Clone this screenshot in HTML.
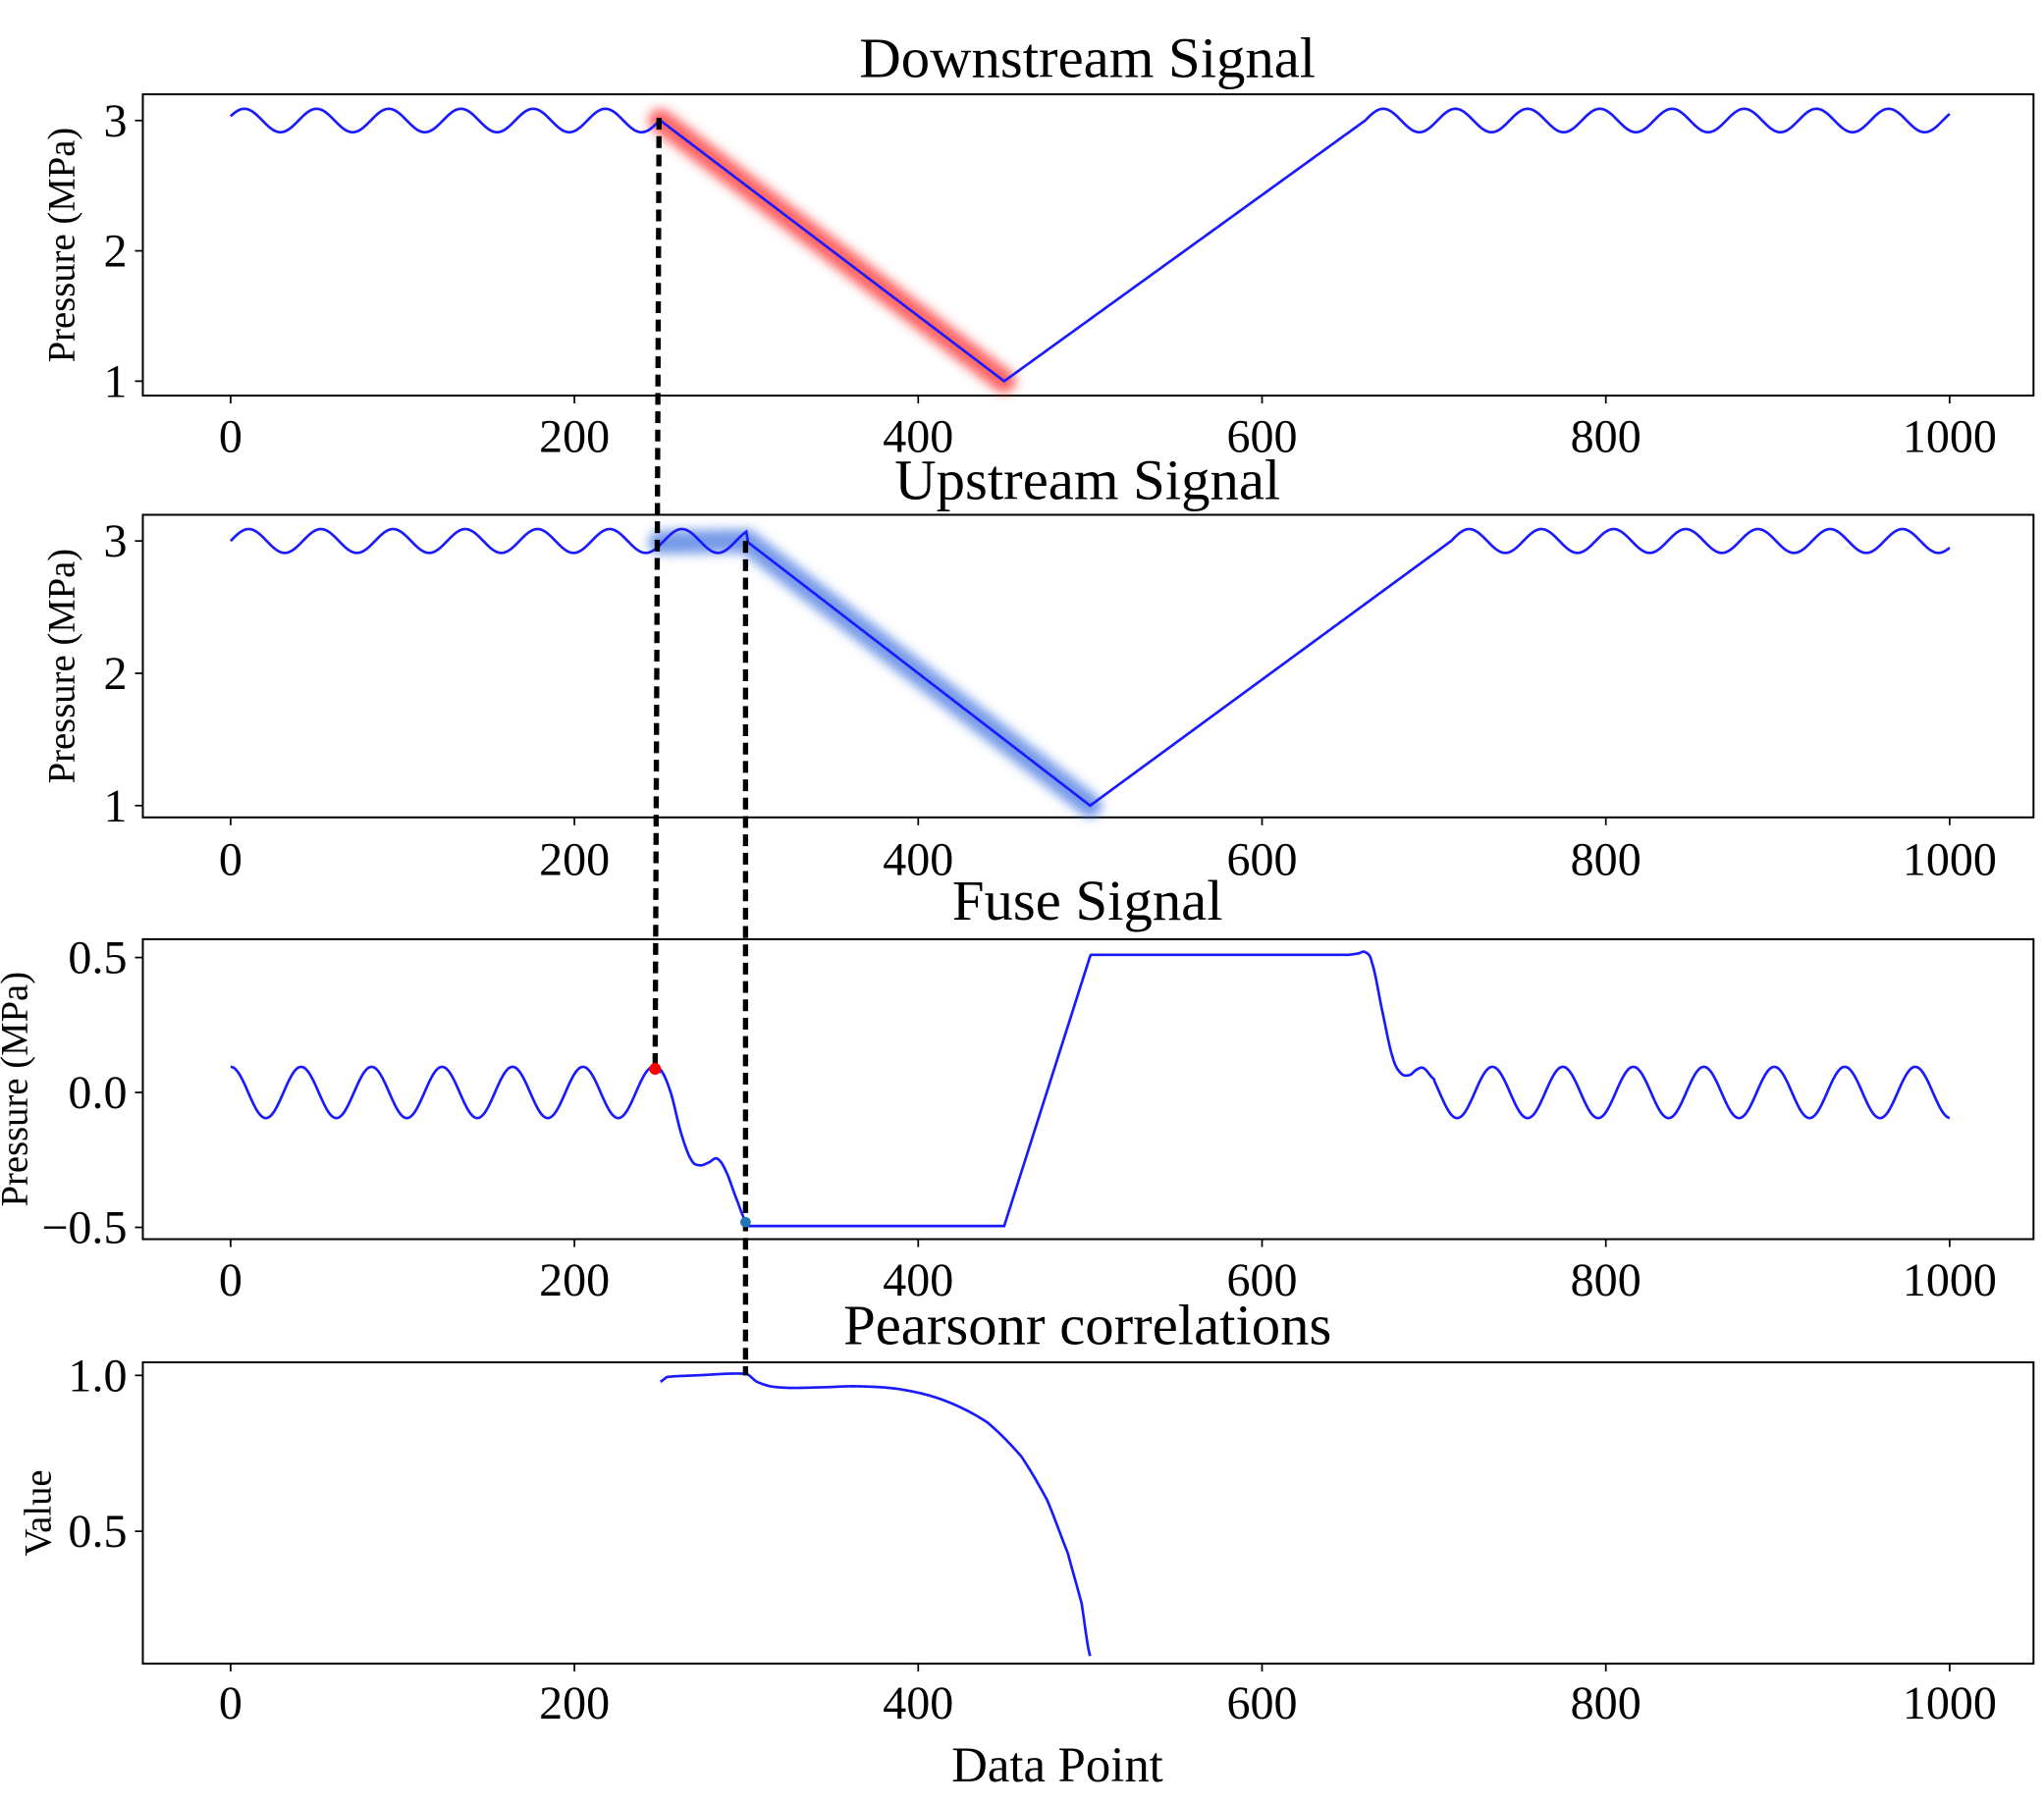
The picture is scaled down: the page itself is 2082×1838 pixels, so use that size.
<!DOCTYPE html>
<html><head><meta charset="utf-8"><style>
html,body{margin:0;padding:0;background:#fff;}
svg{display:block;}
text{font-family:"Liberation Serif",serif;fill:#000;}
</style></head><body>
<svg id="s" width="2082" height="1838" viewBox="0 0 1560 1377.2" xmlns="http://www.w3.org/2000/svg">
<defs>
<filter id="blr" x="-20%" y="-20%" width="140%" height="140%"><feGaussianBlur stdDeviation="4"/></filter>
</defs>
<g id="g"></g>
</svg>
<script>
var g=document.getElementById('g');var NS='http://www.w3.org/2000/svg';
function el(t,a,txt){var e=document.createElementNS(NS,t);for(var k in a)e.setAttribute(k,a[k]);if(txt!==undefined)e.textContent=txt;g.appendChild(e);return e;}
function X(x){return 176+1.312*x;}
var panels=[
 {top:72,bot:302,title:'Downstream Signal',ty:45,yl:'Pressure (MPa)',ylx:50,ticks:[[3,'3'],[2,'2'],[1,'1']],ymap:function(v){return 92+(3-v)*99.5;},xl:333},
 {top:393,bot:624,title:'Upstream Signal',ty:367,yl:'Pressure (MPa)',ylx:50,ticks:[[3,'3'],[2,'2'],[1,'1']],ymap:function(v){return 413+(3-v)*101;},xl:656},
 {top:717,bot:946,title:'Fuse Signal',ty:688,yl:'Pressure (MPa)',ylx:14,ticks:[[0.5,'0.5'],[0,'0.0'],[-0.5,'\u22120.5']],ymap:function(v){return 834-v*206;},xl:977},
 {top:1040,bot:1270,title:'Pearsonr correlations',ty:1012,yl:'Value',ylx:32,ticks:[[1,'1.0'],[0.5,'0.5']],ymap:function(v){return 1050+(1-v)*238;},xl:1300}
];
panels.forEach(function(p){
 el('rect',{x:109,y:p.top,width:1443,height:p.bot-p.top,fill:'none',stroke:'#000','stroke-width':1.5});
 el('text',{x:830,y:p.ty+14,'font-size':44,'text-anchor':'middle'},p.title);
 [0,200,400,600,800,1000].forEach(function(t){el('line',{x1:X(t),x2:X(t),y1:p.bot,y2:p.bot+6,stroke:'#000','stroke-width':1.3});
  el('text',{x:X(t),y:p.xl+12,'font-size':36,'text-anchor':'middle'},String(t));});
 p.ticks.forEach(function(t){var y=p.ymap(t[0]);el('line',{x1:103,x2:109,y1:y,y2:y,stroke:'#000','stroke-width':1.3});
  el('text',{x:97,y:y+12,'font-size':36,'text-anchor':'end'},t[1]);});
 var cy=(p.top+p.bot)/2;
 el('text',{x:p.ylx,y:cy,'font-size':29,'text-anchor':'middle',transform:'rotate(-90 '+p.ylx+' '+cy+')','dominant-baseline':'middle'},p.yl);
});
var P=Math.PI*2,per=42,fp=41;
function down(x){if(x<=250)return 3+0.09*Math.cos(P*(x-8)/per);if(x<=450)return 3-(x-250)/100;if(x<=660)return 1+2*(x-450)/210;return 3+0.09*Math.sin(P*(x-660)/per*1.0+0.0);}
function up(x){if(x<=300)return 3+0.09*Math.sin(P*(x)/per);if(x<=500)return 3-(x-300)/100;if(x<=710)return 1+2*(x-500)/210;return 3+0.09*Math.sin(P*(x-710)/per);}
function cr(pts,x){var n=pts.length;for(var i=0;i<n-1;i++){if(x<=pts[i+1][0]){var p0=pts[Math.max(i-1,0)],p1=pts[i],p2=pts[i+1],p3=pts[Math.min(i+2,n-1)];var t=(x-p1[0])/(p2[0]-p1[0]);var t2=t*t,t3=t2*t;
 return 0.5*((2*p1[1])+(-p0[1]+p2[1])*t+(2*p0[1]-5*p1[1]+4*p2[1]-p3[1])*t2+(-p0[1]+3*p1[1]-3*p2[1]+p3[1])*t3);}}return pts[n-1][1];}
var fk=[[250,0.085],[256,0.0],[262,-0.15],[268,-0.25],[273,-0.27],[278,-0.26],[283,-0.245],[288,-0.29],[294,-0.39],[300,-0.48]];
var fk2=[[650,0.51],[656,0.515],[660,0.52],[664,0.48],[670,0.3],[676,0.13],[681,0.07],[686,0.065],[690,0.085],[694,0.09],[700,0.05]];
function fuse(x){if(x<=250)return 0.095*Math.cos(P*x/fp);if(x<=300)return cr(fk,x);if(x<=450)return -0.495;if(x<=500)return -0.495+(x-450)/50;if(x<=650)return 0.51;
 if(x<=700)return cr(fk2,x);
 return 0.095*Math.cos(P*(x-693)/fp);}
var pk=[[250,0.98],[254,0.995],[270,1.0],[300,1.005],[306,0.98],[314,0.965],[325,0.96],[345,0.962],[365,0.965],[390,0.955],[415,0.92],[440,0.85],[460,0.74],[475,0.6],[487,0.43],[495,0.27],[500,0.1]];
function pear(x){return cr(pk,x);}
function path(f,p,a,b,st){var d='';for(var x=a;x<=b+1e-9;x+=st){d+=(d?'L':'M')+X(x).toFixed(2)+','+p.ymap(f(x)).toFixed(2);}return d;}
el('path',{d:'M'+X(250)+','+panels[0].ymap(3)+'L'+X(450)+','+panels[0].ymap(1),stroke:'#ff3030','stroke-width':18,fill:'none','stroke-opacity':0.75,filter:'url(#blr)','stroke-linecap':'round'});
el('path',{d:'M'+X(250)+','+panels[1].ymap(2.99)+'L'+X(300)+','+panels[1].ymap(3.0)+'L'+X(500)+','+panels[1].ymap(1),stroke:'#3a70e0','stroke-width':18,fill:'none','stroke-opacity':0.7,filter:'url(#blr)','stroke-linecap':'round'});
el('path',{d:path(down,panels[0],0,1000,1),stroke:'#1a1aff','stroke-width':2,fill:'none'});
el('path',{d:path(up,panels[1],0,1000,1),stroke:'#1a1aff','stroke-width':2,fill:'none'});
el('path',{d:path(fuse,panels[2],0,1000,0.5),stroke:'#1a1aff','stroke-width':2,fill:'none'});
el('path',{d:path(pear,panels[3],250,500,0.5),stroke:'#1a1aff','stroke-width':2,fill:'none'});
el('line',{x1:503,y1:90,x2:500,y2:815,stroke:'#000','stroke-width':4,'stroke-dasharray':'9 5'});
el('line',{x1:569,y1:413,x2:569,y2:1050,stroke:'#000','stroke-width':4,'stroke-dasharray':'9 5'});
el('circle',{cx:500,cy:816,r:4.5,fill:'#ff0000'});
el('circle',{cx:569,cy:933,r:4,fill:'#1f77b4'});
el('text',{x:807,y:1360,'font-size':38,'text-anchor':'middle'},'Data Point');
</script>
</body></html>
